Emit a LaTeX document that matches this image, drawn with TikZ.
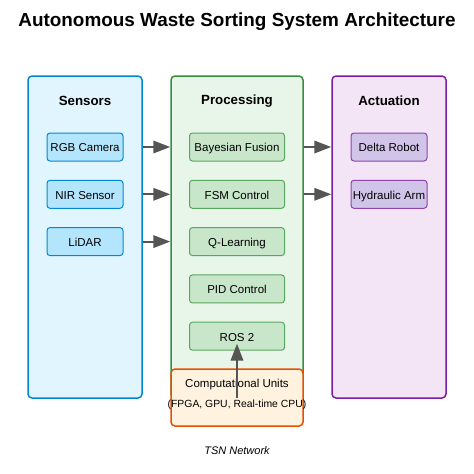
\documentclass[tikz,border=0pt]{standalone}
\usepackage{fontspec}
\setmainfont{Liberation Sans}
\usepackage{xcolor}
\usepackage{tikz}
\usetikzlibrary{positioning, arrows.meta}

\definecolor{sensfill}{HTML}{E1F5FE}
\definecolor{sensline}{HTML}{0288D1}
\definecolor{sensbox}{HTML}{B3E5FC}
\definecolor{procfill}{HTML}{E8F5E9}
\definecolor{procline}{HTML}{388E3C}
\definecolor{procbox}{HTML}{C8E6C9}
\definecolor{procboxline}{HTML}{5AA65E}
\definecolor{actfill}{HTML}{F3E5F5}
\definecolor{actline}{HTML}{7B1FA2}
\definecolor{actbox}{HTML}{D1C4E9}
\definecolor{actboxline}{HTML}{8E44AD}
\definecolor{compfill}{HTML}{FFF3E0}
\definecolor{compline}{HTML}{E65100}
\definecolor{flowgray}{HTML}{555555}

\begin{document}
\begin{tikzpicture}[x=1pt, y=-1pt,
    layer/.style={draw, rounded corners=4pt, line width=1.5pt, minimum width=114pt, minimum height=322pt},
    unit/.style={draw, rounded corners=3pt, line width=1pt, minimum height=28pt, inner sep=0pt, text height=9.6pt, text depth=0pt, font=\fontsize{11.5}{13}\selectfont},
    head/.style={font=\bfseries\fontsize{13.3}{15}\selectfont},
    flow/.style={draw=flowgray, line width=2pt, -{Triangle[length=17pt, width=12.5pt]}}]
  \useasboundingbox (0,0) rectangle (474,474);
  \fill[white] (0,0) rectangle (474,474);

  \node[font=\bfseries\fontsize{18.9}{22}\selectfont] at (237, 22) (title) {Autonomous Waste Sorting System Architecture};

  % layers
  \node[layer, fill=sensfill, draw=sensline] at (85, 237) (sensors) {};
  \node[layer, fill=procfill, draw=procline, minimum width=132pt] at (237, 237) (proc) {};
  \node[layer, fill=actfill, draw=actline] at (389, 237) (act) {};

  \node[head] at (85, 101) (senshead) {Sensors};
  \node[head] at (237, 101) (prochead) {Processing};
  \node[head] at (389, 101) (acthead) {Actuation};

  % sensors
  \node[unit, fill=sensbox, draw=sensline, minimum width=76pt] at (85, 147) (rgb) {RGB Camera};
  \node[unit, fill=sensbox, draw=sensline, minimum width=76pt] at (85, 194.3) (nir) {NIR Sensor};
  \node[unit, fill=sensbox, draw=sensline, minimum width=76pt] at (85, 241.6) (lidar) {LiDAR};

  % processing
  \node[unit, fill=procbox, draw=procboxline, minimum width=95pt] at (237, 147) (bayes) {Bayesian Fusion};
  \node[unit, fill=procbox, draw=procboxline, minimum width=95pt] at (237, 194.3) (fsm) {FSM Control};
  \node[unit, fill=procbox, draw=procboxline, minimum width=95pt] at (237, 241.6) (qlearn) {Q-Learning};
  \node[unit, fill=procbox, draw=procboxline, minimum width=95pt] at (237, 288.9) (pid) {PID Control};
  \node[unit, fill=procbox, draw=procboxline, minimum width=95pt] at (237, 336.2) (ros) {ROS 2};

  % actuation
  \node[unit, fill=actbox, draw=actboxline, minimum width=76pt] at (389, 147) (delta) {Delta Robot};
  \node[unit, fill=actbox, draw=actboxline, minimum width=76pt] at (389, 194.3) (arm) {Hydraulic Arm};

  \draw[flow] (sensors.east |- rgb) -- (proc.west |- rgb);
  \draw[flow] (sensors.east |- nir) -- (proc.west |- nir);
  \draw[flow] (sensors.east |- lidar) -- (proc.west |- lidar);
  \draw[flow] (proc.east |- bayes) -- (act.west |- bayes);
  \draw[flow] (proc.east |- fsm) -- (act.west |- fsm);

  \node[draw=compline, fill=compfill, rounded corners=4pt, line width=1.5pt, minimum width=132pt, minimum height=57pt] at (237, 397.5) (comp) {};
  \node at (237, 385) (comptext) {\fontsize{11.5}{13}\selectfont Computational Units};
  \node at (237, 405) (compsub) {\fontsize{10.4}{12}\selectfont (FPGA, GPU, Real-time CPU)};
  \draw[flow] (comp.center) -- ([yshift=7pt]ros.south);

  \node[font=\itshape\fontsize{11}{13}\selectfont] at (237, 451) (tsn) {TSN Network};
\end{tikzpicture}
\end{document}
